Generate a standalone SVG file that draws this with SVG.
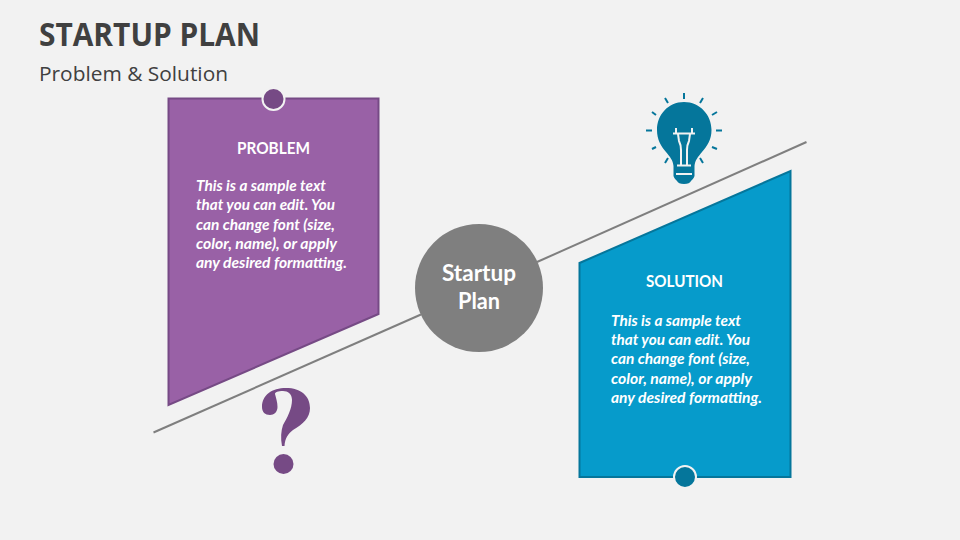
<svg xmlns="http://www.w3.org/2000/svg" width="960" height="540" viewBox="0 0 960 540">
<style>
text{font-family:"Lato","Open Sans","Liberation Sans",sans-serif}
.t{font-family:"Open Sans","Noto Sans","Liberation Sans",sans-serif;fill:#404040}
.body{font-size:15px;font-style:italic;font-weight:700;fill:#fff}
.head{font-size:17px;font-weight:700;fill:#fff;text-anchor:middle}
.ctr{font-size:22px;font-weight:700;fill:#fff;text-anchor:middle}
.ray{stroke:#05769b;stroke-width:2;fill:none}
.fil{stroke:#f2f2f2;stroke-width:2;fill:none}
</style>
<rect width="960" height="540" fill="#f2f2f2"/>
<g id="title">
<text class="t" x="39" y="46" font-size="32" font-weight="700" textLength="221" lengthAdjust="spacingAndGlyphs">STARTUP PLAN</text>
<text class="t" x="39" y="81" font-size="20" textLength="189" lengthAdjust="spacingAndGlyphs">Problem &amp; Solution</text>
</g>
<g id="connectors">
<line x1="153.500" y1="432.500" x2="421" y2="314.500" stroke="#7f7f7f" stroke-width="2"/>
<line x1="537" y1="262" x2="806.500" y2="142" stroke="#7f7f7f" stroke-width="2"/>
</g>
<g id="problem">
<path d="M168.500 98.500H378.500V314L168.500 405Z" fill="#9961a6" stroke="#764a85" stroke-width="2"/>
<circle cx="273.500" cy="99" r="11" fill="#764a85" stroke="#f2f2f2" stroke-width="2"/>
<text class="head" x="273.500" y="154" textLength="73" lengthAdjust="spacingAndGlyphs">PROBLEM</text>
<text class="body" x="196" y="191" textLength="130" lengthAdjust="spacingAndGlyphs">This is a sample text</text>
<text class="body" x="196" y="210" textLength="139" lengthAdjust="spacingAndGlyphs">that you can edit. You</text>
<text class="body" x="196" y="230" textLength="139" lengthAdjust="spacingAndGlyphs">can change font (size,</text>
<text class="body" x="196" y="249" textLength="141" lengthAdjust="spacingAndGlyphs">color, name), or apply</text>
<text class="body" x="196" y="268" textLength="151" lengthAdjust="spacingAndGlyphs">any desired formatting.</text>
</g>
<g id="question">
<path d="M262 407C262 395 272 388 286 388C301 388 310 396 310 408C310 418 303 424 293 430C288 434 285 438 284.500 446H282C280.500 438 281 431 283 425C287 418 292 409 292 400C292 394 288 391 283 391C278 391 275 392 275 394C276 398 277.500 402 277.500 407C277.500 412 274 415 270 415C265 415 262 412 262 407Z" fill="#764a85"/>
<circle cx="283.500" cy="464" r="10" fill="#764a85"/>
</g>
<g id="center">
<circle cx="479" cy="288" r="64" fill="#7f7f7f"/>
<text class="ctr" x="479" y="281" textLength="74" lengthAdjust="spacingAndGlyphs">Startup</text>
<text class="ctr" x="479" y="309" textLength="42" lengthAdjust="spacingAndGlyphs">Plan</text>
</g>
<g id="solution">
<path d="M579.500 263L790.500 171V477H579.500Z" fill="#069bcb" stroke="#05769b" stroke-width="2"/>
<circle cx="685" cy="477" r="11" fill="#05769b" stroke="#f2f2f2" stroke-width="2"/>
<text class="head" x="684.500" y="287" textLength="77" lengthAdjust="spacingAndGlyphs">SOLUTION</text>
<text class="body" x="611" y="326" textLength="130" lengthAdjust="spacingAndGlyphs">This is a sample text</text>
<text class="body" x="611" y="345" textLength="139" lengthAdjust="spacingAndGlyphs">that you can edit. You</text>
<text class="body" x="611" y="364" textLength="139" lengthAdjust="spacingAndGlyphs">can change font (size,</text>
<text class="body" x="611" y="384" textLength="141" lengthAdjust="spacingAndGlyphs">color, name), or apply</text>
<text class="body" x="611" y="403" textLength="151" lengthAdjust="spacingAndGlyphs">any desired formatting.</text>
</g>
<g id="bulb">
<path class="ray" d="M684 93V99M665 98L668 103M652 112L656 115M646 130.500H652M652 149L656 147M665 163L668 158M703 98L700 103M717 112L712 115M716 130.500H722M717 149L712 147M703 163L700 158"/>
<path d="M684 102C668 102 657 115 657 130C657 140 661 146 666 152C670 157 673 160 673.500 166V176C674 178 676 180 677 181C678 183 680 184 684 184C688 184 690 183 691 181C692 180 694 178 694.500 176V166C695 160 698 157 702 152C707 146 711.500 140 711.500 130C711.500 115 700 102 684 102Z" fill="#05769b"/>
<path class="fil" d="M673 133.500H695M676 133V128M692 133V128M678 134L679 141Q681 145 681 150V165M690 134L689 141Q687 145 687 150V165M677 165.500H691"/>
<path class="fil" stroke-width="2.500" d="M676 174H692"/>
</g>
</svg>
